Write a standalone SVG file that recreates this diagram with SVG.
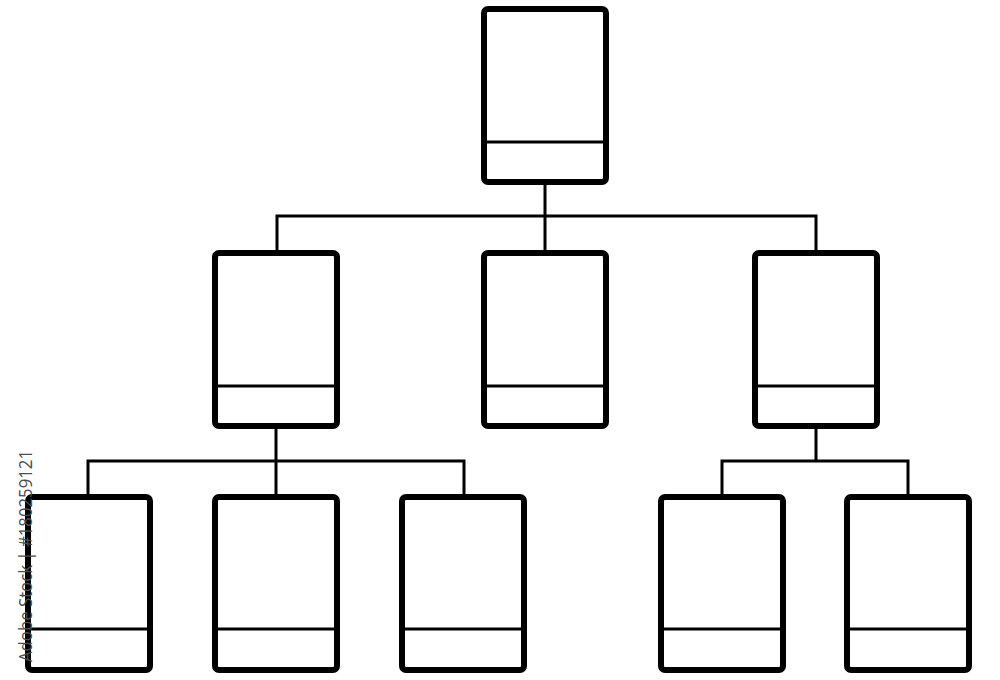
<svg xmlns="http://www.w3.org/2000/svg" width="1000" height="680" viewBox="0 0 1000 680">
<style>
.box{fill:#fff;stroke:#000;stroke-width:6;}
.div{stroke:#000;stroke-width:3;fill:none;}
.conn{stroke:#000;stroke-width:3;fill:none;stroke-linecap:square;}
.wm{font-family:"Open Sans","Liberation Sans",Arial,sans-serif;font-size:18px;fill:#4d4d4d;}
</style>
<rect width="1000" height="680" fill="#fff"/>
<g id="connectors">
<path class="conn" d="M545 185V216M277 216H816M277 216V250M545 216V250M816 216V250"/>
<path class="conn" d="M276 429V494M88 461H464M88 461V494M464 461V494"/>
<path class="conn" d="M816 429V461M722 461H908M722 461V494M908 461V494"/>
</g>
<g id="n-top"><rect class="box" x="484" y="9" width="122" height="173" rx="4"/><line class="div" x1="484" y1="142" x2="606" y2="142"/></g>
<g id="n-mid-left"><rect class="box" x="215" y="253" width="122" height="173" rx="4"/><line class="div" x1="215" y1="386" x2="337" y2="386"/></g>
<g id="n-mid-center"><rect class="box" x="484" y="253" width="122" height="173" rx="4"/><line class="div" x1="484" y1="386" x2="606" y2="386"/></g>
<g id="n-mid-right"><rect class="box" x="755" y="253" width="122" height="173" rx="4"/><line class="div" x1="755" y1="386" x2="877" y2="386"/></g>
<g id="n-bot-1"><rect class="box" x="28" y="497" width="122" height="173" rx="4"/><line class="div" x1="28" y1="629" x2="150" y2="629"/></g>
<g id="n-bot-2"><rect class="box" x="215" y="497" width="122" height="173" rx="4"/><line class="div" x1="215" y1="629" x2="337" y2="629"/></g>
<g id="n-bot-3"><rect class="box" x="402" y="497" width="122" height="173" rx="4"/><line class="div" x1="402" y1="629" x2="524" y2="629"/></g>
<g id="n-bot-4"><rect class="box" x="661" y="497" width="122" height="173" rx="4"/><line class="div" x1="661" y1="629" x2="783" y2="629"/></g>
<g id="n-bot-5"><rect class="box" x="847" y="497" width="122" height="173" rx="4"/><line class="div" x1="847" y1="629" x2="969" y2="629"/></g>
<text class="wm" transform="translate(32,662) rotate(-90)" textLength="212" lengthAdjust="spacingAndGlyphs">Adobe Stock | #180259121</text>
</svg>
